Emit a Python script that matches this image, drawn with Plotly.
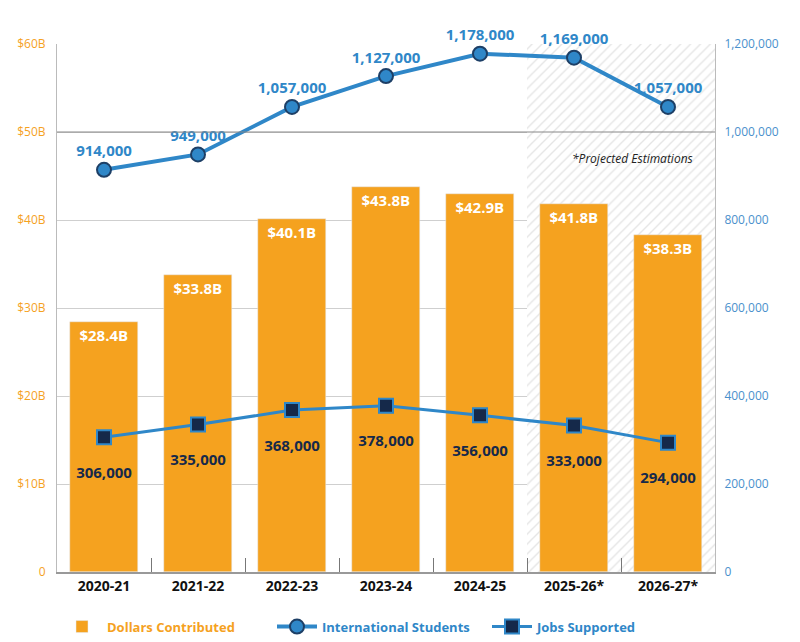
import plotly.graph_objects as go

years = ["2020-21", "2021-22", "2022-23", "2023-24", "2024-25", "2025-26*", "2026-27*"]
dollars = [28.4, 33.8, 40.1, 43.8, 42.9, 41.8, 38.3]
students = [914000, 949000, 1057000, 1127000, 1178000, 1169000, 1057000]
jobs = [306000, 335000, 368000, 378000, 356000, 333000, 294000]
projected = ["2025-26*", "2026-27*"]

ORANGE = "#F5A21F"
BLUE = "#2F87C8"
NAVY = "#15294A"
FONT = "Open Sans"

fig = go.Figure()
fig.add_trace(go.Bar(x=projected, y=[60, 60], width=1, showlegend=False, hoverinfo="skip",
                     marker=dict(color="rgba(0,0,0,0)", line=dict(width=0),
                                 pattern=dict(shape="/", fgcolor="#cccccc", bgcolor="white", size=7, solidity=0.2))))
fig.add_trace(go.Bar(x=years, y=dollars, width=0.72, marker_color=ORANGE,
                     name=f"<span style='color:{ORANGE}'>Dollars Contributed</span>",
                     text=[f"${v}B" for v in dollars], textposition="inside", insidetextanchor="end",
                     textfont=dict(color="white", size=15, family=FONT, weight="bold"), textangle=0))
fig.add_trace(go.Scatter(x=years, y=students, yaxis="y2", mode="lines+markers+text", cliponaxis=False,
                         name=f"<span style='color:{BLUE}'>International Students</span>",
                         line=dict(color=BLUE, width=4),
                         marker=dict(size=14, color=BLUE, line=dict(color="#1D3F66", width=2)),
                         text=[f"{v:,}" for v in students], textposition="top center",
                         textfont=dict(color=BLUE, size=15, family=FONT, weight="bold")))
fig.add_trace(go.Scatter(x=years, y=jobs, yaxis="y2", mode="lines+markers+text", cliponaxis=False,
                         name=f"<span style='color:{BLUE}'>Jobs Supported</span>",
                         line=dict(color=BLUE, width=3),
                         marker=dict(size=14, symbol="square", color=NAVY, line=dict(color=BLUE, width=2)),
                         text=[f" <br>{v:,}" for v in jobs], textposition="bottom center",
                         textfont=dict(color=NAVY, size=15, family=FONT, weight="bold")))

fig.add_shape(type="line", xref="paper", x0=0, x1=1, yref="y", y0=50, y1=50, line=dict(color="#888", width=1))
fig.add_annotation(text="<i>*Projected Estimations</i>", x=1 - 0.03, xref="paper", y=47, yref="y",
                   xanchor="right", showarrow=False, font=dict(size=12, color="#222", family=FONT))

fig.update_layout(
    width=800, height=642, plot_bgcolor="white", paper_bgcolor="white",
    margin=dict(l=49, r=93, t=36, b=78, autoexpand=False), barmode="overlay", bargap=0,
    font=dict(family=FONT),
    xaxis=dict(type="category", categoryorder="array", categoryarray=years,
               tickson="boundaries", ticks="inside", ticklen=14, tickcolor="#777",
               showline=True, linecolor="#999", linewidth=2,
               tickfont=dict(size=14, color="#111", family=FONT, weight="bold"), range=[-0.5, 6.5]),
    yaxis=dict(range=[0, 60], tickvals=[0, 10, 20, 30, 40, 50, 60],
               ticktext=["0", "$10B", "$20B", "$30B", "$40B", "$50B", "$60B"],
               tickfont=dict(size=12, color=ORANGE), gridcolor="#cfcfcf", showline=True, linecolor="#bbb",
               zeroline=False, ticklabelstandoff=8),
    yaxis2=dict(range=[0, 1200000], overlaying="y", side="right", tickvals=list(range(0, 1200001, 200000)),
                tickformat=",", tickfont=dict(size=12, color="#4A90CC"), showgrid=False,
                showline=True, linecolor="#bbb", zeroline=False, ticklabelstandoff=6),
    legend=dict(orientation="h", x=0.0, y=-0.075, xanchor="left", yanchor="top",
                font=dict(size=13, family=FONT, weight="bold"), itemwidth=40,
                entrywidthmode="pixels", entrywidth=160),
    showlegend=True,
)
fig.write_html("out.html")
